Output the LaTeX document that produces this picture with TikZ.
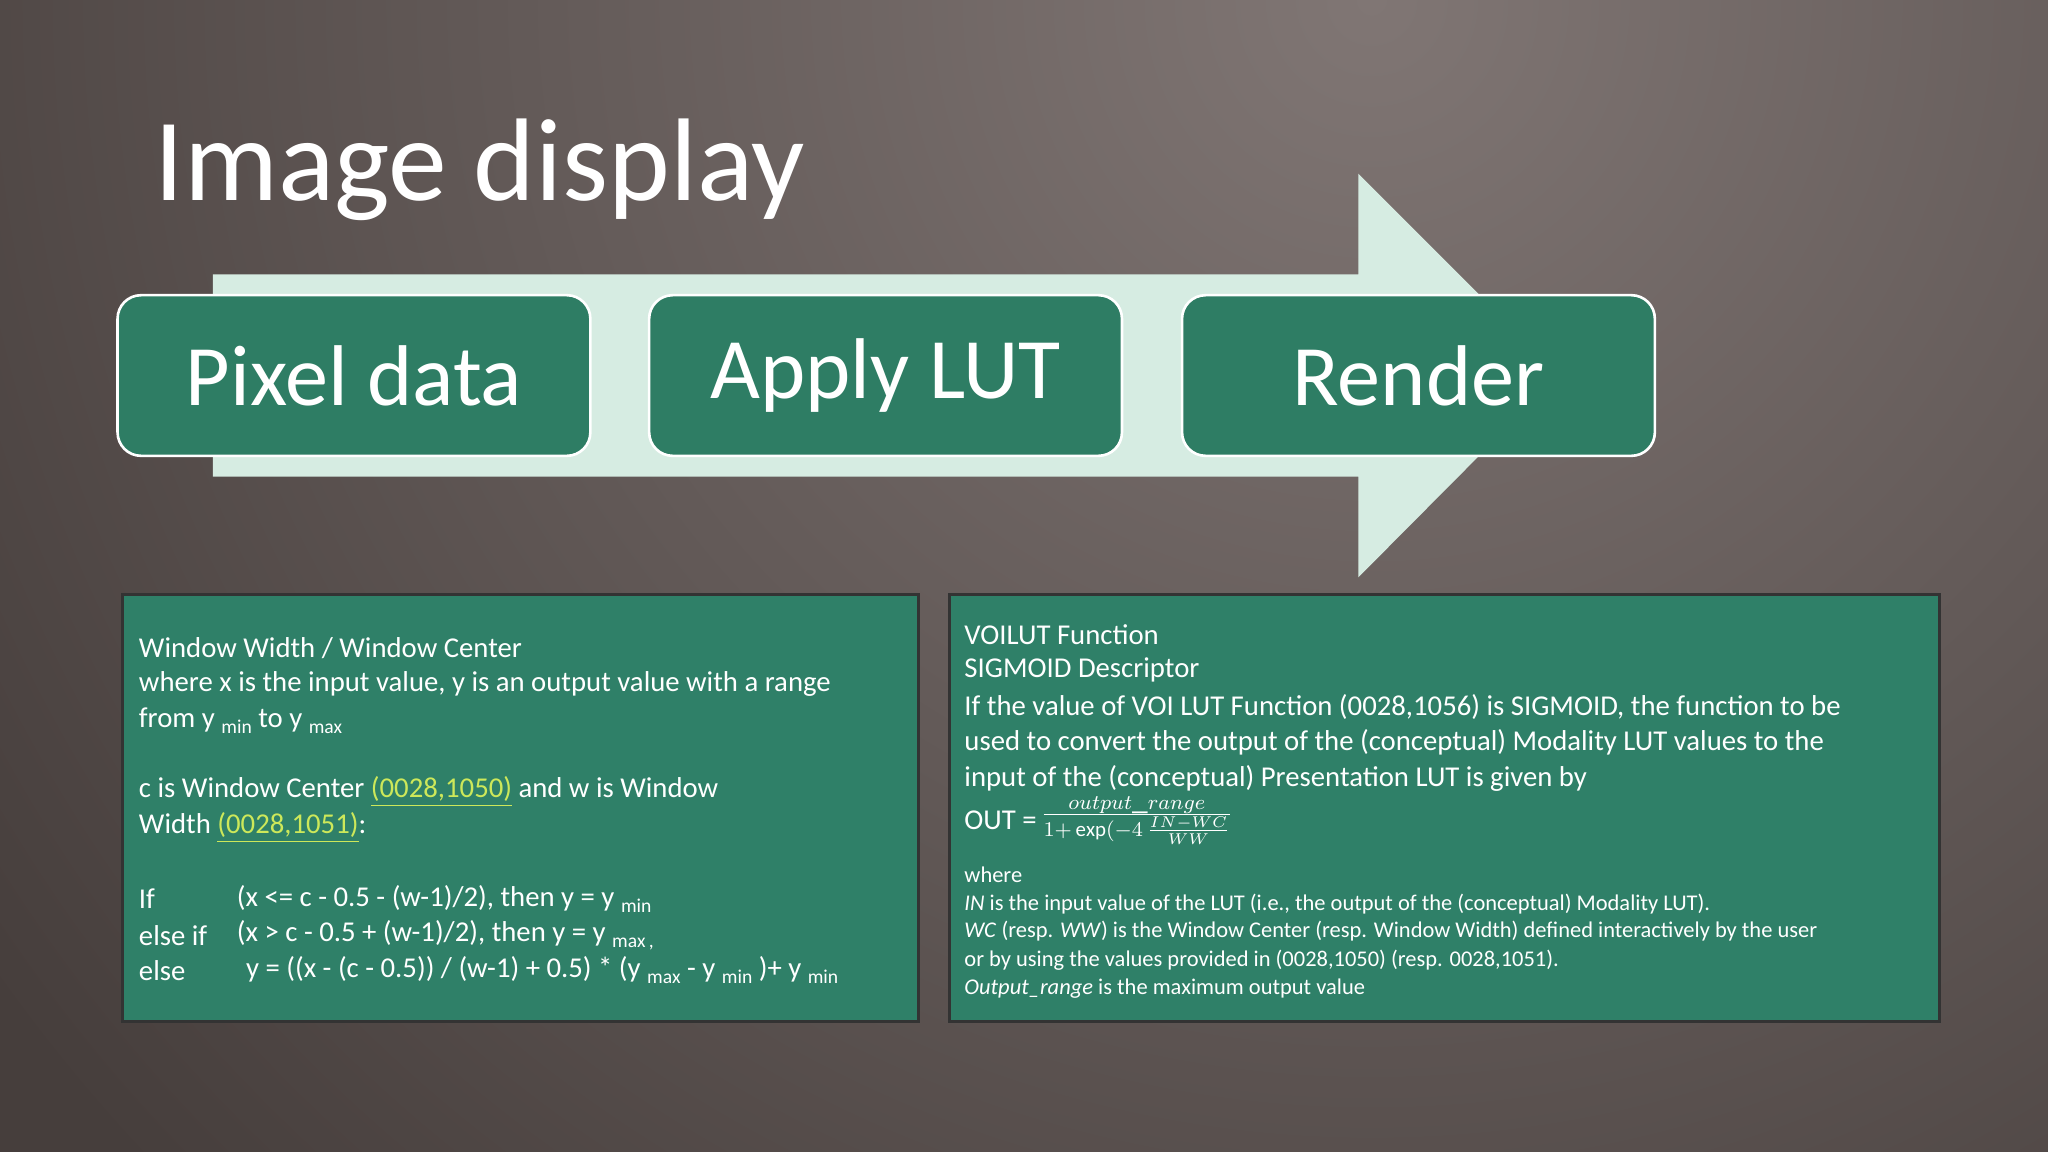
\documentclass[tikz,border=0pt]{standalone}
\usepackage{fontspec}
\setmainfont{Carlito}
\usetikzlibrary{shadings}
\definecolor{bgA}{RGB}{128,118,116}
\definecolor{bgB}{RGB}{70,62,60}
\definecolor{mint}{RGB}{214,236,226}
\definecolor{boxg}{RGB}{46,125,100}
\definecolor{panel}{RGB}{47,128,104}
\definecolor{lnk}{RGB}{205,232,90}
\newcommand{\sbx}[1]{\raisebox{-0.45ex}{\fontsize{7.5}{8}\selectfont #1}}
\newcommand{\lk}[1]{\textcolor{lnk}{\underline{#1}}}
\tikzset{
 stage/.style={draw=white,line width=1pt,fill=boxg,rounded corners=9pt,text=white,font=\fontsize{33}{36}\selectfont},
 panelbox/.style={draw=black!80,line width=1pt,fill=panel},
 body/.style={anchor=west,text=white,font=\fontsize{11}{13}\selectfont,inner sep=0pt},
 small/.style={anchor=west,text=white,font=\fontsize{8.6}{10}\selectfont,inner sep=0pt}
}
\begin{document}
\begin{tikzpicture}[x=0.5pt,y=-0.5pt]
\useasboundingbox (0,0) rectangle (1568,882);
\begin{scope}
\clip (0,0) rectangle (1568,882);
\fill[bgB] (0,0) rectangle (1568,882);
\shade[inner color=bgA,outer color=bgB] (1050,0) circle (1300);
\end{scope}
\node[anchor=west,text=white,font=\fontsize{45}{50}\selectfont,inner sep=0pt] (title) at (118,130) {Image display};
% arrow
\fill[mint] (163,210) -- (1040,210) -- (1040,133) -- (1194,287) -- (1040,442) -- (1040,365) -- (163,365) -- cycle;
\node[stage,minimum width=181pt,minimum height=61.5pt] (pix) at (271,287.5) {Pixel data};
\node[stage,minimum width=181pt,minimum height=61.5pt] (lut) at (678,287.5) {Apply LUT};
\node[stage,minimum width=181pt,minimum height=61.5pt] (ren) at (1086,287.5) {Render};
% panels
\draw[panelbox] (94,455) rectangle (703,782);
\draw[panelbox] (727,455) rectangle (1485,782);
\node[body] (l1) at (106,496) {Window Width / Window Center};
\node[body] (l2) at (106,524) {where x is the input value, y is an output value with a range};
\node[body] (l3) at (106,552) {from y \sbx{min} to y \sbx{max}};
\node[body] (l4) at (106,606) {c is Window Center \lk{(0028,1050)} and w is Window};
\node[body] (l5) at (106,634) {Width \lk{(0028,1051)}:};
\node[body] (l6a) at (106,688) {If};
\node[body] (l7a) at (106,716) {else if};
\node[body] (l8a) at (106,743) {else};
\node[body] (l6) at (181,688) {(x <= c - 0.5 - (w-1)/2), then y = y \sbx{min}};
\node[body] (l7) at (181,716) {(x > c - 0.5 + (w-1)/2), then y = y \sbx{max\,,}};
\node[body] (l8) at (188,743) {y = ((x - (c - 0.5)) / (w-1) + 0.5) * (y \sbx{max} - y \sbx{min} )+ y \sbx{min}};
\node[body] (r1) at (738,486) {VOILUT Function};
\node[body] (r2) at (738,513) {SIGMOID Descriptor};
\node[body] (r3) at (738,541) {If the value of VOI LUT Function (0028,1056) is SIGMOID, the function to be};
\node[body] (r4) at (738,568) {used to convert the output of the (conceptual) Modality LUT values to the};
\node[body] (r5) at (738,596) {input of the (conceptual) Presentation LUT is given by};
\node[body] (r6) at (738,628) {OUT =};
\node[anchor=west,text=white,inner sep=0pt,font=\fontsize{12}{14}\selectfont] (r6f) at ([xshift=1pt]r6.east) {$\frac{output\_range}{1{+}\exp(-4\,\frac{IN-WC}{WW}}$};
\node[small] (r7) at (738,670) {where};
\node[small] (r8) at (738,692) {\textit{IN} is the input value of the LUT (i.e., the output of the (conceptual) Modality LUT).};
\node[small] (r9) at (738,713) {\textit{WC} (resp. \textit{WW}) is the Window Center (resp. Window Width) defined interactively by the user};
\node[small] (r10) at (738,735) {or by using the values provided in (0028,1050) (resp. 0028,1051).};
\node[small] (r11) at (738,757) {\textit{Output\_range} is the maximum output value};
\end{tikzpicture}
\end{document}
